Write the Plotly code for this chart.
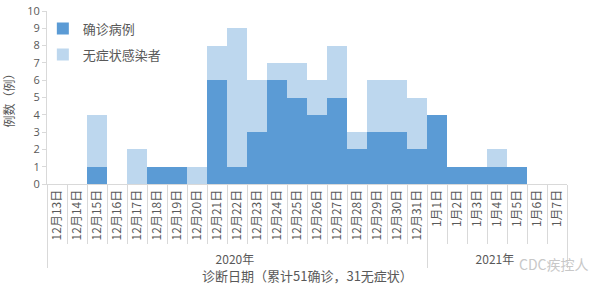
import plotly.graph_objects as go

years = ["2020年"] * 19 + ["2021年"] * 7
days = ["12月%d日" % d for d in range(13, 32)] + ["1月%d日" % d for d in range(1, 8)]
confirmed = [0, 0, 1, 0, 0, 1, 1, 0, 6, 1, 3, 6, 5, 4, 5, 2, 3, 3, 2, 4, 1, 1, 1, 1, 0, 0]
asymptomatic = [0, 0, 3, 0, 2, 0, 0, 1, 2, 8, 3, 1, 2, 2, 3, 1, 3, 3, 3, 0, 0, 0, 1, 0, 0, 0]
y_ticks = list(range(0, 11))

font_cn = "Noto Sans CJK SC, Microsoft YaHei, sans-serif"
grey = "#595959"
axis_grey = "#D9D9D9"

fig = go.Figure()
fig.add_trace(go.Bar(x=[years, days], y=confirmed, name="确诊病例", legendgroup="a",
                     marker=dict(color="#5B9BD5", line=dict(width=0))))
fig.add_trace(go.Bar(x=[years, days], y=asymptomatic, name="无症状感染者", legendgroup="b",
                     marker=dict(color="#BDD7EE", line=dict(width=0))))

fig.update_layout(
    width=592, height=288,
    margin=dict(l=47, r=25, t=11, b=104),
    barmode="stack", bargap=0,
    plot_bgcolor="white", paper_bgcolor="white",
    font=dict(family=font_cn, color=grey, size=11),
    legend=dict(x=-0.008, y=0.985, xanchor="left", yanchor="top",
                font=dict(size=13, color=grey), tracegroupgap=6, traceorder="grouped",
                bgcolor="rgba(0,0,0,0)", itemwidth=30),
    showlegend=True,
)
fig.update_yaxes(range=[0, 10], tickvals=y_ticks, showgrid=False, zeroline=False,
                 showline=True, linecolor=axis_grey, linewidth=1, automargin=False,
                 ticks="outside", ticklen=4, tickcolor=axis_grey,
                 tickfont=dict(size=11, color=grey, family="Open Sans, sans-serif"),
                 title=dict(text="例数（例）", font=dict(size=12, color=grey), standoff=12))
fig.update_xaxes(type="multicategory", tickangle=-90, showgrid=False, automargin=False,
                 showline=True, linecolor=axis_grey, linewidth=1,
                 ticks="outside", ticklen=59, tickcolor=axis_grey,
                 showdividers=True, dividercolor=axis_grey, dividerwidth=1,
                 tickfont=dict(size=12, color=grey))

fig.add_annotation(text="诊断日期（累计51确诊，31无症状）", xref="paper", yref="paper",
                   x=0.5, y=-0.53, xanchor="center", yanchor="middle", showarrow=False,
                   font=dict(size=13, color=grey, family=font_cn))
fig.add_annotation(text="CDC疾控人", xref="paper", yref="paper", x=0.903, y=-0.46,
                   xanchor="left", yanchor="middle", showarrow=False,
                   font=dict(size=14, color="#C8C8C8", family=font_cn))

fig.write_html("out.html")
